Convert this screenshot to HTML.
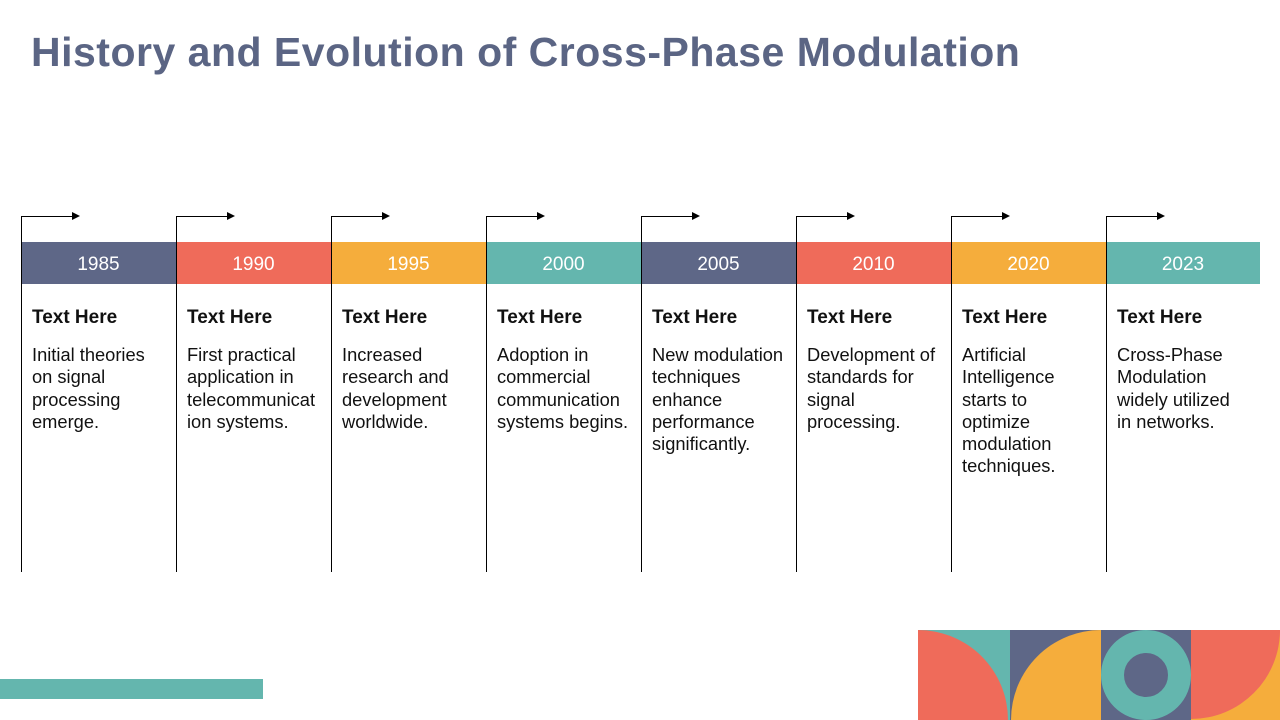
<!DOCTYPE html>
<html><head><style>
body{margin:0;width:1280px;height:720px;position:relative;background:#fff;overflow:hidden;font-family:"Liberation Sans",sans-serif}
.t{position:absolute;left:31px;top:29px;font-size:41px;font-weight:bold;color:#5b6584;letter-spacing:0.5px}
.vl{position:absolute;top:217px;width:1px;height:355px;background:#000}
.hl{position:absolute;top:216px;width:52px;height:1px;background:#000}
.ar{position:absolute;top:212px;width:0;height:0;border-left:8px solid #000;border-top:4.5px solid transparent;border-bottom:4.5px solid transparent}
.bar{position:absolute;top:242px;height:42px;color:#fff;font-size:19px;text-align:center;line-height:46px}
.h{position:absolute;top:307px;font-size:19px;font-weight:bold;color:#111}
.d{position:absolute;top:344px;font-size:18.3px;line-height:22.3px;color:#111;width:137px}
</style></head><body>
<div class="t">History and Evolution of Cross-Phase Modulation</div>
<div id="c"></div>
<script>
var yrs=["1985","1990","1995","2000","2005","2010","2020","2023"];
var cols=["#5e6787","#ef6b5a","#f5ad3c","#64b6ae","#5e6787","#ef6b5a","#f5ad3c","#64b6ae"];
var ds=["Initial theories on signal processing emerge.","First practical application in telecommunicat ion systems.","Increased research and development worldwide.","Adoption in commercial communication systems begins.","New modulation techniques enhance performance significantly.","Development of standards for signal processing.","Artificial Intelligence starts to optimize modulation techniques.","Cross-Phase Modulation widely utilized in networks."];
var h="";
for(var i=0;i<8;i++){var x=21+i*155;var w=i==7?154:155;
h+='<div class="bar" style="left:'+x+'px;width:'+w+'px;background:'+cols[i]+'">'+yrs[i]+'</div>';
h+='<div class="vl" style="left:'+x+'px"></div><div class="hl" style="left:'+x+'px"></div><div class="ar" style="left:'+(x+51)+'px"></div>';
h+='<div class="h" style="left:'+(x+11)+'px">Text Here</div><div class="d" style="left:'+(x+11)+'px'+(i==7?';width:126px':'')+'">'+ds[i]+'</div>';}
document.getElementById("c").innerHTML=h;
</script>
<div style="position:absolute;left:0;top:679px;width:263px;height:20px;background:#64b6ae"></div>
<svg style="position:absolute;left:918px;top:630px" width="362" height="90">
<rect x="0" y="0" width="92" height="90" fill="#64b6ae"/>
<path d="M0 0 A90 90 0 0 1 90 90 L0 90Z" fill="#ef6b5a"/>
<rect x="92" y="0" width="91" height="90" fill="#5e6787"/>
<path d="M183 0 A90 90 0 0 0 93 90 L183 90Z" fill="#f5ad3c"/>
<rect x="183" y="0" width="90" height="90" fill="#5e6787"/>
<circle cx="228" cy="45" r="33.5" fill="none" stroke="#64b6ae" stroke-width="23"/>
<rect x="273" y="0" width="89" height="90" fill="#f5ad3c"/>
<path d="M273 0 L362 0 A89 89 0 0 1 273 89Z" fill="#ef6b5a"/>
</svg>
</body></html>
